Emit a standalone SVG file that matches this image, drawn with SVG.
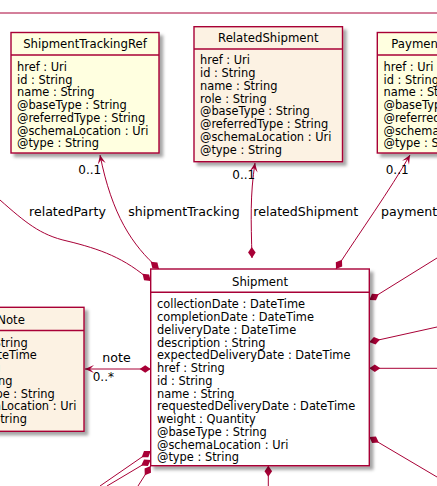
<svg xmlns="http://www.w3.org/2000/svg" width="437" height="486" viewBox="0 0 437 486">
<style>
.box{stroke:#A80036;stroke-width:1.4;filter:url(#sh)}
.ref{fill:#FFFFE0}
.res{fill:#FCF2E3}
.piv{fill:#FFFFFF}
.div{stroke:#A80036;stroke-width:1.4}
.t{font-family:"DejaVu Sans",sans-serif;font-size:11.7px;fill:#000;text-anchor:middle}
.a{font-family:"DejaVu Sans",sans-serif;font-size:11.4px;fill:#000}
.l{font-family:"DejaVu Sans",sans-serif;font-size:12.6px;fill:#000}
.m{font-family:"DejaVu Sans",sans-serif;font-size:12px;fill:#000}
.c{fill:none;stroke:#A80036;stroke-width:1}
.comp{marker-end:url(#dia)}
.nav{marker-start:url(#dias);marker-end:url(#arr)}
</style>
<defs>
<filter id="sh" x="-10%" y="-10%" width="130%" height="130%">
<feDropShadow dx="3.5" dy="3.5" stdDeviation="1.8" flood-color="#000" flood-opacity="0.35"/>
</filter>
<marker id="dia" markerUnits="userSpaceOnUse" markerWidth="12" markerHeight="8" refX="0" refY="0" orient="auto" style="overflow:visible">
<path d="M0,0 L-5.5,-3.8 L-11,0 L-5.5,3.8 Z" fill="#A80036"/>
</marker>
<marker id="dias" markerUnits="userSpaceOnUse" markerWidth="12" markerHeight="8" refX="0" refY="0" orient="auto-start-reverse" style="overflow:visible">
<path d="M0,0 L-5.5,-3.8 L-11,0 L-5.5,3.8 Z" fill="#A80036"/>
</marker>
<marker id="arr" markerUnits="userSpaceOnUse" markerWidth="10" markerHeight="10" refX="0" refY="0" orient="auto" style="overflow:visible">
<path d="M0,0 L-9,-4 L-5,0 L-9,4 Z" fill="#A80036"/>
</marker>
</defs>

<g id="connectors">
<path class="c" d="M0,13 L437,13"/>
<path class="c comp" d="M0,200 C25,222 40,235 67,241 C100,249 125,258 150.7,281"/>
<path class="c nav" d="M159,269 C132,245 112,215 100,155"/>
<path class="c nav" d="M252,258 C251,220 250,195 255,163"/>
<path class="c nav" d="M336,269 C360,232 390,190 410,155"/>
<path class="c nav" d="M150.7,369 L85,369"/>
<path class="c comp" d="M437,258 L369.3,300"/>
<path class="c comp" d="M437,327 L369.3,342"/>
<path class="c comp" d="M437,368.3 L369.3,368.3"/>
<path class="c comp" d="M437,477 L369.3,437"/>
<path class="c comp" d="M268.3,486 L268.3,465.7"/>
<path class="c comp" d="M100,486 L150.7,451"/>
<path class="c comp" d="M107,486 L150.7,460"/>
<path class="c comp" d="M138,486 L150.7,466"/>
<text class="l" x="29" y="216">relatedParty</text>
<text class="l" x="128.3" y="216">shipmentTracking</text>
<text class="l" x="253.3" y="216">relatedShipment</text>
<text class="l" x="381" y="216">paymentMethod</text>
<text class="l" x="102.3" y="362">note</text>
<text class="m" x="78.3" y="174.3">0..1</text>
<text class="m" x="232.3" y="179.3">0..1</text>
<text class="m" x="385.7" y="174.3">0..1</text>
<text class="m" x="92.7" y="381">0..*</text>
</g>

<g id="ShipmentTrackingRef">
<rect class="box ref" x="11" y="32.5" width="148" height="120.5"/>
<line class="div" x1="11" y1="55" x2="159" y2="55"/>
<text class="t" x="85" y="48">ShipmentTrackingRef</text>
<text class="a" x="17" y="70.8">href : Uri</text>
<text class="a" x="17" y="83.55">id : String</text>
<text class="a" x="17" y="96.3">name : String</text>
<text class="a" x="17" y="109.05">@baseType : String</text>
<text class="a" x="17" y="121.8">@referredType : String</text>
<text class="a" x="17" y="134.55">@schemaLocation : Uri</text>
<text class="a" x="17" y="147.3">@type : String</text>
</g>

<g id="RelatedShipment">
<rect class="box res" x="194" y="26.7" width="148.5" height="135"/>
<line class="div" x1="194" y1="49" x2="342.5" y2="49"/>
<text class="t" x="268.3" y="41.5">RelatedShipment</text>
<text class="a" x="200" y="64.3">href : Uri</text>
<text class="a" x="200" y="77.05">id : String</text>
<text class="a" x="200" y="89.8">name : String</text>
<text class="a" x="200" y="102.55">role : String</text>
<text class="a" x="200" y="115.3">@baseType : String</text>
<text class="a" x="200" y="128.05">@referredType : String</text>
<text class="a" x="200" y="140.8">@schemaLocation : Uri</text>
<text class="a" x="200" y="153.55">@type : String</text>
</g>

<g id="PaymentMethodRef">
<rect class="box ref" x="377.3" y="32.5" width="142" height="120.5"/>
<line class="div" x1="377.3" y1="55" x2="519.3" y2="55"/>
<text class="t" x="448.3" y="48">PaymentMethodRef</text>
<text class="a" x="383.5" y="70.8">href : Uri</text>
<text class="a" x="383.5" y="83.55">id : String</text>
<text class="a" x="383.5" y="96.3">name : String</text>
<text class="a" x="383.5" y="109.05">@baseType : String</text>
<text class="a" x="383.5" y="121.8">@referredType : String</text>
<text class="a" x="383.5" y="134.55">@schemaLocation : Uri</text>
<text class="a" x="383.5" y="147.3">@type : String</text>
</g>

<g id="Note">
<rect class="box res" x="-62" y="307.3" width="146" height="124"/>
<line class="div" x1="-62" y1="330.5" x2="84" y2="330.5"/>
<text class="t" x="11" y="324">Note</text>
<text class="a" x="-55" y="346.6">author : String</text>
<text class="a" x="-55" y="359.35">date : DateTime</text>
<text class="a" x="-55" y="372.1">id : String</text>
<text class="a" x="-55" y="384.85">text : String</text>
<text class="a" x="-55" y="397.6">@baseType : String</text>
<text class="a" x="-55" y="410.35">@schemaLocation : Uri</text>
<text class="a" x="-55" y="423.1">@type : String</text>
</g>

<g id="Shipment">
<rect class="box piv" x="150.7" y="269" width="218.6" height="196.7"/>
<line class="div" x1="150.7" y1="292.3" x2="369.3" y2="292.3"/>
<text class="t" x="260" y="285.5">Shipment</text>
<text class="a" x="157" y="308.3">collectionDate : DateTime</text>
<text class="a" x="157" y="321.05">completionDate : DateTime</text>
<text class="a" x="157" y="333.8">deliveryDate : DateTime</text>
<text class="a" x="157" y="346.55">description : String</text>
<text class="a" x="157" y="359.3">expectedDeliveryDate : DateTime</text>
<text class="a" x="157" y="372.05">href : String</text>
<text class="a" x="157" y="384.8">id : String</text>
<text class="a" x="157" y="397.55">name : String</text>
<text class="a" x="157" y="410.3">requestedDeliveryDate : DateTime</text>
<text class="a" x="157" y="423.05">weight : Quantity</text>
<text class="a" x="157" y="435.8">@baseType : String</text>
<text class="a" x="157" y="448.55">@schemaLocation : Uri</text>
<text class="a" x="157" y="461.3">@type : String</text>
</g>
</svg>
